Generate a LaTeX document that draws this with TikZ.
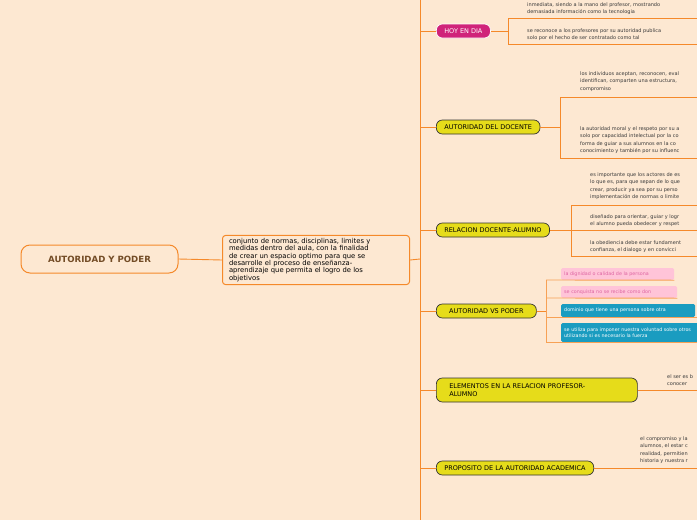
\documentclass[tikz,border=0pt]{standalone}
\usepackage{fontspec}
\setmainfont{DejaVu Sans}
\definecolor{bg}{HTML}{FDE8D2}
\definecolor{org}{HTML}{F5892A}
\definecolor{mag}{HTML}{D0237A}
\definecolor{yel}{HTML}{E6DC1A}
\definecolor{pnk}{HTML}{FFC4D8}
\definecolor{blu}{HTML}{1A9CC0}
\definecolor{txt}{HTML}{3A3A3A}
\begin{document}
\begin{tikzpicture}[x=1pt,y=-1pt,
  ln/.style={draw=org,line width=0.9pt},
  topic/.style={draw=black!80,fill=yel,rounded corners=6pt,line width=0.7pt,font=\fontsize{6.5}{8}\selectfont,anchor=west,inner xsep=8pt,align=left},
  small/.style={font=\fontsize{5}{7.6}\selectfont,text=txt,anchor=north west,align=left,inner sep=0pt},
  chip/.style={rounded corners=1.5pt,anchor=west,font=\fontsize{4.8}{6.5}\selectfont,inner xsep=3pt,align=left}]
\fill[bg] (0,0) rectangle (697,520);
\useasboundingbox (0,0) rectangle (697,520);
\clip (0,0) rectangle (697,520);
% root and main box
\node[draw=org,line width=1pt,rounded corners=9pt,fill=bg,minimum width=157pt,minimum height=28pt,font=\bfseries\fontsize{8.6}{9}\selectfont,text=brown!60!black] (root) at (99.5,259) {AUTORIDAD Y PODER};
\node[draw=org,line width=1pt,rounded corners=3pt,fill=bg,text width=174pt,minimum width=187pt,inner xsep=4pt,inner ysep=3pt,anchor=west,font=\fontsize{6.8}{7.3}\selectfont,align=left] (def) at (222,260) {conjunto de normas, disciplinas, limites y\\medidas dentro del aula, con la finalidad\\de crear un espacio optimo para que se\\desarrolle el proceso de enseñanza-\\aprendizaje que permita el logro de los\\objetivos};
\draw[ln] (root.east) -- (def.west);
\coordinate (t0) at (420,0); \coordinate (t1) at (420,520); \coordinate (tj) at (420,259);
\draw[ln] (t0) -- (t1);
\draw[ln] (def.east) -- (tj);
% topics
\node[topic,draw=white,fill=mag,text=white,minimum height=14pt] (hoy) at (436,31) {HOY EN DIA};
\node[topic,minimum height=14pt] (doc) at (436,127) {AUTORIDAD DEL DOCENTE};
\node[topic,minimum height=14pt] (rel) at (436,230) {RELACION DOCENTE-ALUMNO};
\node[topic,minimum height=14pt,minimum width=100pt] (vs) at (436,311) {AUTORIDAD VS PODER};
\node[topic,minimum height=24pt,text width=175pt,inner xsep=13pt] (ele) at (436,390) {ELEMENTOS EN LA RELACION PROFESOR-\\ALUMNO};
\node[topic,minimum height=14pt] (pro) at (436,468) {PROPOSITO DE LA AUTORIDAD ACADEMICA};
\foreach \n/\y in {hoy/31,doc/127,rel/230,vs/311,ele/390,pro/468}{\coordinate (c\n) at (420,\y); \draw[ln] (c\n) -- (\n.west);}
% HOY
\coordinate (h1) at (508,31);
\draw[ln] (hoy.east) -- (h1);
\draw[ln] (700,18) -- (508,18) -- (508,44) -- (700,44);
\node[small] (h2) at (527,2) {inmediata, siendo a la mano del profesor, mostrando\\demasiada información como la tecnologia};
\node[small] (h3) at (527,28) {se reconoce a los profesores por su autoridad publica\\solo por el hecho de ser contratado como tal};
% DOCENTE
\coordinate (d1) at (560,127);
\draw[ln] (doc.east) -- (d1);
\draw[ln] (700,97) -- (560,97) -- (560,158) -- (700,158);
\node[small] (d2) at (580,71) {los individuos aceptan, reconocen, eval\\identifican, comparten una estructura,\\compromiso};
\node[small] (d3) at (580,126) {la autoridad moral y el respeto por su a\\solo por capacidad intelectual por la co\\forma de guiar a sus alumnos en la co\\conocimiento y también por su influenc};
% RELACION
\coordinate (r1) at (571,230);
\draw[ln] (rel.east) -- (r1);
\draw[ln] (700,205) -- (571,205) -- (571,256) -- (700,256);
\draw[ln] (r1) -- (700,230);
\node[small] (r2) at (590,172) {es importante que los actores de es\\lo que es, para que sepan de lo que\\crear, producir ya sea por su perso\\implementación de normas o limite};
\node[small] (r3) at (590,214) {diseñado para orientar, guiar y logr\\el alumno pueda obedecer y respet};
\node[small] (r4) at (590,240) {la obediencia debe estar fundament\\confianza, el dialogo y en convicci};
% VS PODER
\coordinate (v1) at (546,311);
\draw[ln] (vs.east) -- (v1);
\draw[ln,draw=org!80] (546,280) -- (546,342);
\node[chip,fill=pnk,text=mag!70,minimum height=12pt,text width=107pt] (p1) at (561,274) {la dignidad o calidad de la persona};
\node[chip,fill=pnk,text=mag!70,minimum height=12pt,text width=110pt] (p2) at (561,292) {se conquista no se recibe como don};
\node[chip,fill=blu,text=white,minimum height=13pt,text width=128pt] (p3) at (561,310.5) {dominio que tiene una persona sobre otra};
\node[chip,fill=blu,text=white,minimum height=19pt,text width=140pt] (p4) at (561,332.5) {se utiliza para imponer nuestra voluntad sobre otros\\utilizando si es necesario la fuerza};
\draw[ln,draw=org!80] (546,280) -- (p1.south east);
\draw[ln,draw=org!80] (546,298) -- (p2.south east);
\draw[ln,draw=org!80] (546,317) -- (700,317);
\draw[ln,draw=org!80] (546,342) -- (700,342);
% ELEMENTOS
\coordinate (e1) at (700,390);
\draw[ln] (ele.east) -- (e1);
\node[small] (e2) at (667,374) {el ser es b\\conocer};
% PROPOSITO
\coordinate (q1) at (700,468);
\draw[ln] (pro.east) -- (q1);
\node[small] (q2) at (640,436) {el compromiso y la\\alumnos, el estar c\\realidad, permitien\\historia y nuestra r};
\end{tikzpicture}
\end{document}
